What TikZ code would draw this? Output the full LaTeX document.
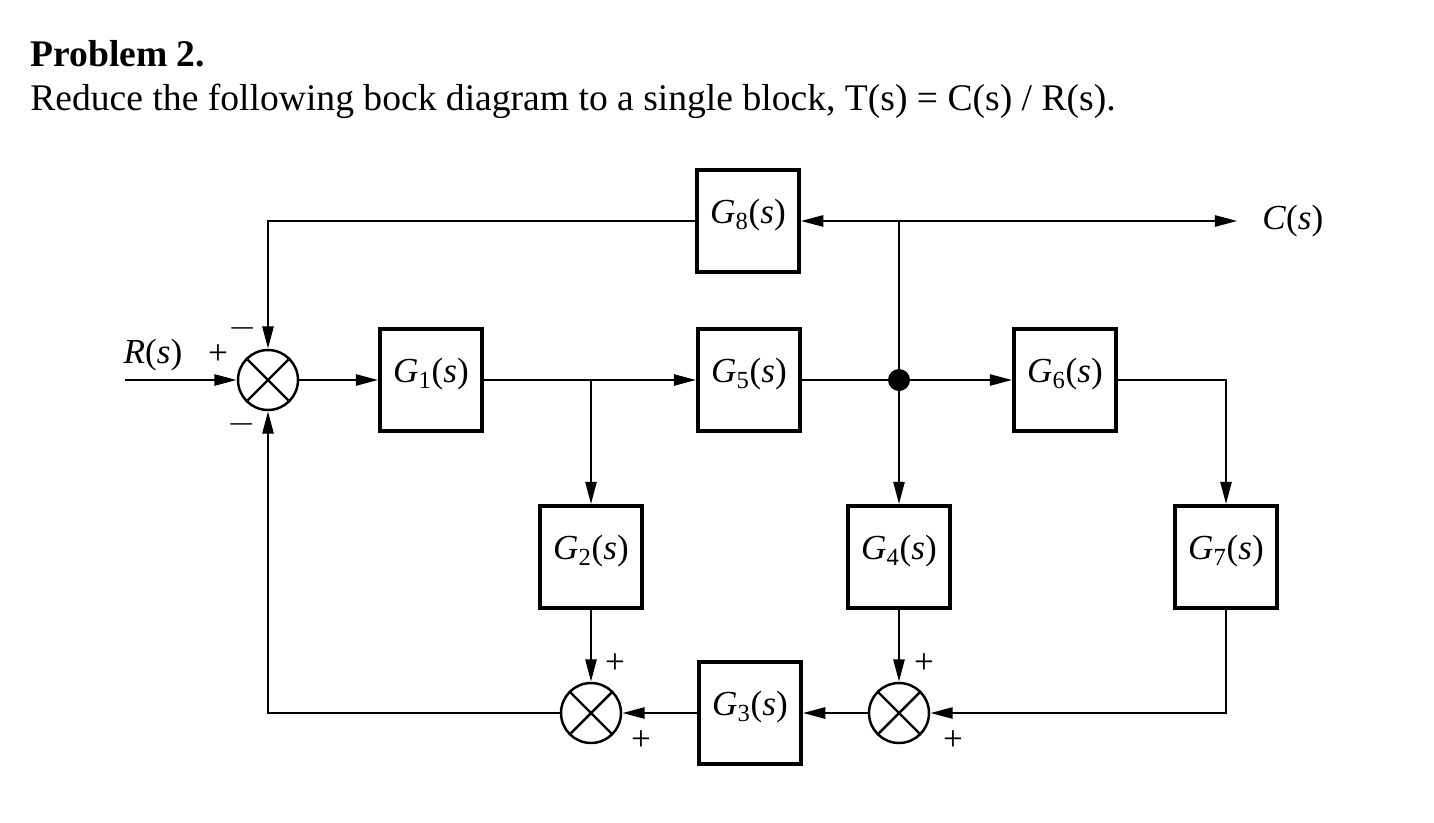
\documentclass[tikz,border=0pt]{standalone}
\usepackage{fontspec}
\setmainfont{Liberation Serif}
\usetikzlibrary{arrows.meta}

\newcommand{\tf}[1]{\textit{G}\textsubscript{#1}(\textit{s})}

\tikzset{
	block/.style={draw, line width=2pt, minimum width=2.04cm, minimum height=2.04cm, inner sep=0pt, text depth=0.38cm, font=\fontsize{20}{23}\selectfont},
	sumjn/.style={draw, circle, line width=1.4pt, minimum size=1.2cm, inner sep=0pt,
		path picture={\draw[line width=1.4pt] (path picture bounding box.north west) -- (path picture bounding box.south east)
			(path picture bounding box.south west) -- (path picture bounding box.north east);}},
	sig/.style={inner sep=0pt, font=\fontsize{20}{23}\selectfont},
	wire/.style={line width=1.5pt},
	flow/.style={wire, -{Triangle[length=0.45cm, width=0.22cm]}}
}

\begin{document}
\begin{tikzpicture}[x=0.02cm, y=-0.02cm]
			
			\useasboundingbox (0,0) rectangle (1434,822);
			
			% Heading
			\node[anchor=base west, inner sep=0pt, font=\fontsize{21.4}{25}\selectfont\bfseries] (title) at (30,66) {Problem 2.};
			\node[anchor=base west, inner sep=0pt, font=\fontsize{21.4}{25}\selectfont] (task) at (30,110) {Reduce the following bock diagram to a single block, T(s) = C(s) / R(s).};
			
			% Forward row
			\coordinate (rin) at (125,380);
			\node[sumjn] (s1) at (268,380) {};
			\node[block] (g1) at (431,380) {\tf{1}};
			\node[block] (g5) at (749,380) {\tf{5}};
			\node[circle, fill, inner sep=0pt, minimum size=0.44cm] (dot) at (899,380) {};
			\node[block] (g6) at (1065,380) {\tf{6}};
			
			% Top row
			\node[block] (g8) at (748,221) {\tf{8}};
			\coordinate (tap) at (899,221);
			\node[anchor=west, inner sep=0pt, font=\fontsize{20}{23}\selectfont] (out) at (1262,221) {\textit{C}(\textit{s})};
			
			% Middle row
			\node[block] (g2) at (591,557) {\tf{2}};
			\node[block] (g4) at (899,557) {\tf{4}};
			\node[block] (g7) at (1226,557) {\tf{7}};
			
			% Bottom row
			\node[sumjn] (s2) at (591,713) {};
			\node[block] (g3) at (750,713) {\tf{3}};
			\node[sumjn] (s3) at (899,713) {};
			
			% Input and signs
			\node[font=\fontsize{20}{23}\selectfont, inner sep=0pt] (rlab) at (153,355) {\textit{R}(\textit{s})};
			\node[sig] (p1) at (218,355) {+};
			\node[sig] (m1) at (243,328) {$-$};
			\node[sig] (m2) at (242,424) {$-$};
			\node[sig] (p2) at (615,664) {+};
			\node[sig] (p3) at (641,741) {+};
			\node[sig] (p4) at (924,664) {+};
			\node[sig] (p5) at (953,741) {+};
			
			% Forward path
			\draw[flow] (rin) -- (s1);
			\draw[flow] (s1) -- (g1);
			\draw[flow] (g1) -- (g5);
			\coordinate (b1) at (591,380);
			\draw[flow] (b1) -- (g2);
			\draw[wire] (g5) -- (dot);
			\draw[flow] (dot) -- (g6);
			\draw[flow] (g6.east) -| (g7.north);
			
			% Output and G8 loop
			\draw[wire] (dot) -- (tap);
			\draw[flow, shorten >=14] (tap) -- (out.west);
			\draw[flow] (tap) -- (g8.east);
			\draw[flow] (g8.west) -| (s1.north);
			
			% Lower loops
			\draw[flow] (dot) -- (g4);
			\draw[flow] (g2) -- (s2);
			\draw[flow] (g4) -- (s3);
			\draw[flow] (g7.south) |- (s3.east);
			\draw[flow] (s3) -- (g3);
			\draw[flow] (g3) -- (s2);
			\draw[flow] (s2.west) -| (s1.south);
			
\end{tikzpicture}
\end{document}
